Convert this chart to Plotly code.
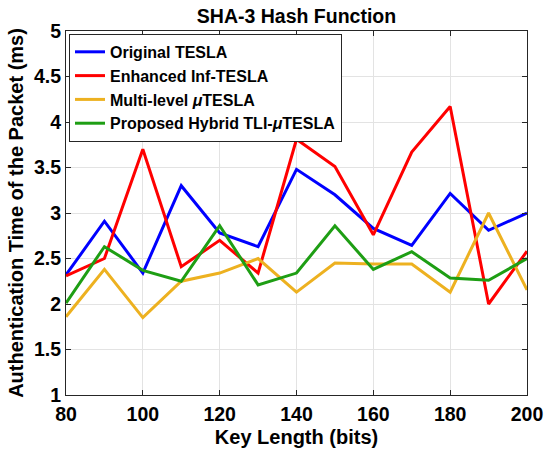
import plotly.graph_objects as go

key_length = [80, 90, 100, 110, 120, 130, 140, 150, 160, 170, 180, 190, 200]
original_tesla = [2.32, 2.91, 2.34, 3.30, 2.78, 2.63, 3.48, 3.20, 2.83, 2.645, 3.215, 2.81, 3.00]
enhanced_inf_tesla = [2.31, 2.50, 3.70, 2.41, 2.70, 2.34, 3.81, 3.51, 2.76, 3.67, 4.17, 2.00, 2.58]
multilevel_mutesla = [1.86, 2.38, 1.85, 2.25, 2.34, 2.50, 2.13, 2.45, 2.44, 2.44, 2.13, 3.00, 2.155]
hybrid_tli_mutesla = [2.01, 2.63, 2.37, 2.25, 2.86, 2.21, 2.34, 2.86, 2.38, 2.575, 2.285, 2.26, 2.50]

series_names = ["Original TESLA", "Enhanced Inf-TESLA", "Multi-level <i>μ</i>TESLA",
                "Proposed Hybrid TLI-<i>μ</i>TESLA"]
series_values = [original_tesla, enhanced_inf_tesla, multilevel_mutesla, hybrid_tli_mutesla]
colors = ["#0000FF", "#FF0000", "#EDB120", "#1E9E14"]

FONT = "Arial, 'Liberation Sans', sans-serif"

fig = go.Figure()
for name, vals, c in zip(series_names, series_values, colors):
    fig.add_trace(go.Scatter(x=key_length, y=vals, mode="lines", name=name,
                             line=dict(color=c, width=3)))

axis_common = dict(showgrid=True, gridcolor="#E3E3E3", gridwidth=1,
                   showline=True, linecolor="#262626", linewidth=1, mirror="ticks",
                   ticks="inside", ticklen=5, tickcolor="#262626",
                   tickfont=dict(family=FONT, size=19.5, color="black", weight="bold"),
                   zeroline=False, automargin=False)

fig.update_layout(
    width=550, height=459,
    margin=dict(l=66, r=23, t=31, b=64),
    paper_bgcolor="white", plot_bgcolor="white",
    title=dict(text="SHA-3 Hash Function", xref="paper", x=0.5, xanchor="center",
               yref="paper", y=1, yanchor="bottom", pad=dict(b=8, t=0),
               font=dict(family=FONT, size=19.5, color="black", weight="bold")),
    xaxis=dict(range=[80, 200], dtick=20, tick0=80, ticklabelstandoff=2,
               title=dict(text="Key Length (bits)", standoff=5,
                          font=dict(family=FONT, size=20, color="black", weight="bold")),
               **axis_common),
    yaxis=dict(range=[1, 5], dtick=0.5, tick0=1,
               title=dict(text="Authentication Time of the Packet (ms)", standoff=4,
                          font=dict(family=FONT, size=20, color="black", weight="bold")),
               **axis_common),
    legend=dict(x=0.0065, y=0.992, xanchor="left", yanchor="top",
                bgcolor="white", bordercolor="#262626", borderwidth=1,
                font=dict(family=FONT, size=16, color="black", weight="bold"),
                itemwidth=30, tracegroupgap=0),
    showlegend=True,
)

fig.write_html("out.html", config={"displayModeBar": False},
               post_script="document.body.style.margin='0';")
